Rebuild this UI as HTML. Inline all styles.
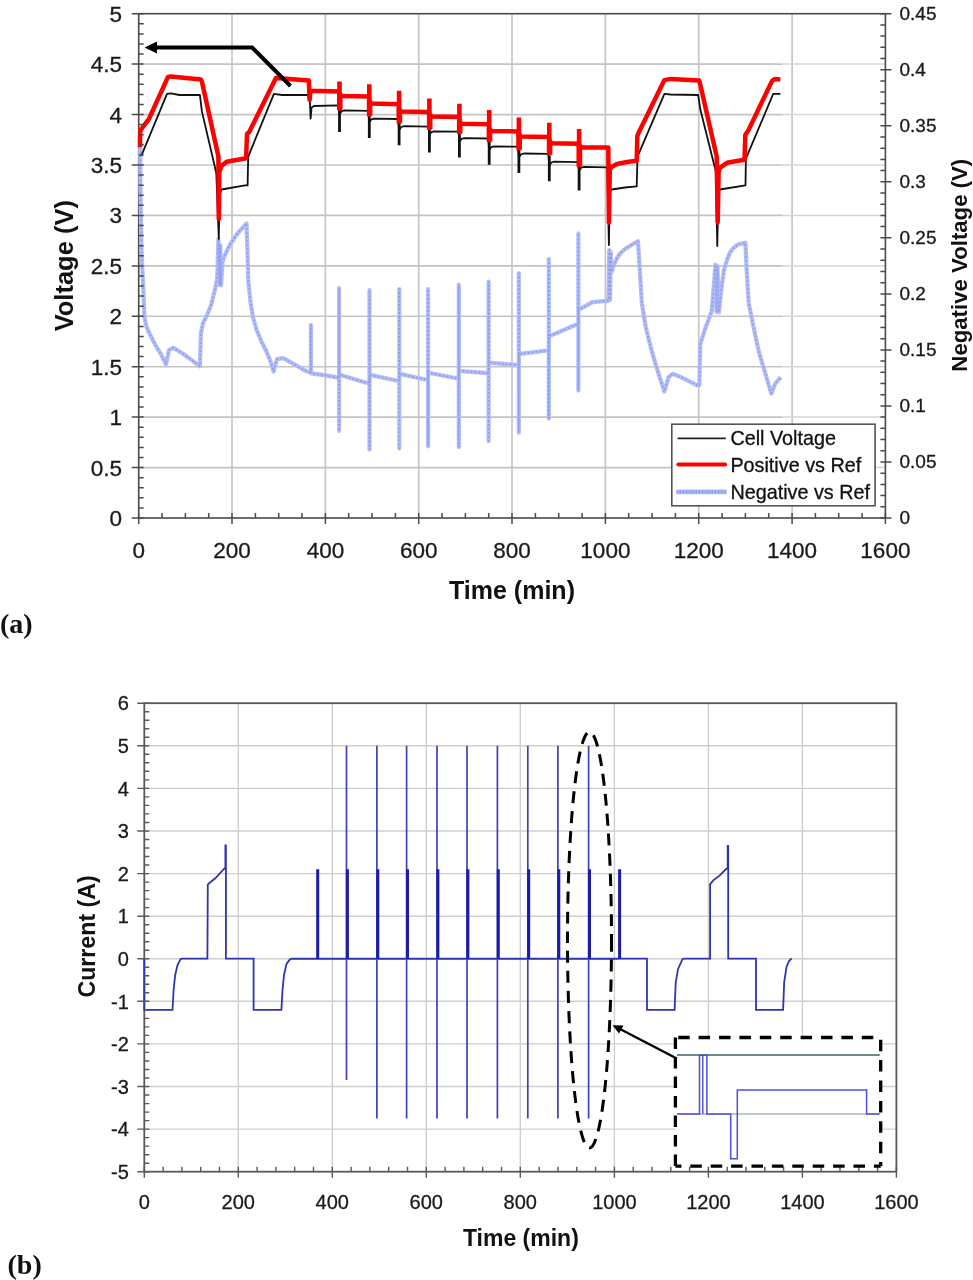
<!DOCTYPE html>
<html><head><meta charset="utf-8"><title>Figure</title>
<style>html,body{margin:0;padding:0;background:#fff;}body{width:973px;height:1280px;overflow:hidden;}svg{display:block;}</style>
</head><body>
<svg width="973" height="1280" viewBox="0 0 973 1280">
<rect width="973" height="1280" fill="#fff"/>
<path d="M232 13.7V518M325.4 13.7V518M418.7 13.7V518M512 13.7V518M605.4 13.7V518M698.7 13.7V518M792.1 13.7V518M138.7 467.6H782.5M138.7 417.1H782.5M138.7 366.7H782.5M138.7 316.3H782.5M138.7 265.9H782.5M138.7 215.4H782.5M138.7 165H782.5M138.7 114.6H782.5M138.7 64.1H782.5" stroke="#c4c4c4" stroke-width="1.6" fill="none"/>
<path d="M782.5 467.6H885.4M782.5 417.1H885.4M782.5 366.7H885.4M782.5 316.3H885.4M782.5 265.9H885.4M782.5 215.4H885.4M782.5 165H885.4M782.5 114.6H885.4M782.5 64.1H885.4" stroke="#d6d6d6" stroke-width="1.5" fill="none"/>
<rect x="138.7" y="13.7" width="746.7" height="504.3" fill="none" stroke="#4a4a4a" stroke-width="1.6"/>
<polyline points="140.2,147.6 140.4,180 140.8,210 141.5,250 142.5,272 143.4,290 144.4,317 146,325 148.5,331.4 154.7,343.7 160.8,354 166,364.3 169,350 173.2,347.8 183.4,354 191.7,360.1 199.9,366.3 200.9,333.4 203,323.2 207.1,315 211.2,304.7 214.3,292.3 217.2,279 218.4,239 219.5,285 220.3,245 221,285.3 222.5,262 224,257.2 229.6,245.2 236.6,234.7 246.5,223.4 247.6,255 248.2,280 250.3,300.6 252.9,317 256.4,329.3 261.5,341.7 266.7,352 270.8,362.2 273.5,371.5 277,359.1 283.1,358.1 294.4,364.3 304.7,370.4 310.9,372.5 310.9,325 310.9,373.3 326.3,375.4 336.6,377.4 339.1,377.4 339.1,288 339.1,430.9 339.1,375.4 342.1,375.4 365.4,382.6 369.5,382.6 369.5,290.1 369.5,449.4 369.5,375.4 372.5,375.4 396.2,380.5 399.3,380.5 399.3,289 399.3,448.4 399.3,374.4 402.3,374.4 425,379.5 428.1,379.5 428.1,289 428.1,446.3 428.1,373.3 431.1,373.3 456.7,378.3 458.8,378.3 458.8,284.7 458.8,447.1 458.8,371.1 461.8,371.1 487.6,373.1 488.6,373.1 488.6,281.7 488.6,441 488.6,362.9 491.6,362.9 516.3,364.9 518.8,364.9 518.8,273.4 518.8,432.7 518.8,353.6 521.8,353.6 547.2,350.5 548.8,350.5 548.8,259 548.8,418.4 548.8,335.1 551.8,335.1 575.9,324.8 578.4,324.8 578.4,233.4 578.4,390.6 578.4,308.4 581.4,308.4 592.4,302.2 608.5,300.6 609.3,250 610,300 610.8,252 611.5,272 613.5,266 616.5,259 620,253.5 625,249 631,245.3 638,241.3 639.8,270.2 641.8,303.1 645.9,327.8 652.1,352.4 658.3,373 664.4,391.5 668.6,377.1 672.7,373.8 680.9,377.1 697.3,385.3 699.4,385.3 700.2,344.2 705.5,327.8 711.7,311.3 713.8,286.7 715.4,264.5 716.5,312 717.5,266 718.9,312.3 721.7,286.3 724,270 727,260 730.2,252 734,247.5 738.4,244.3 745.4,242.7 746.7,270.2 748.7,303.1 752.8,323.7 759,352.4 765.2,373 771.3,393.5 775.4,383.3 780.8,377.1" fill="none" stroke="#b2bdf7" stroke-width="4.2" stroke-linejoin="round"/>
<polyline points="140.2,147.6 140.4,180 140.8,210 141.5,250 142.5,272 143.4,290 144.4,317 146,325 148.5,331.4 154.7,343.7 160.8,354 166,364.3 169,350 173.2,347.8 183.4,354 191.7,360.1 199.9,366.3 200.9,333.4 203,323.2 207.1,315 211.2,304.7 214.3,292.3 217.2,279 218.4,239 219.5,285 220.3,245 221,285.3 222.5,262 224,257.2 229.6,245.2 236.6,234.7 246.5,223.4 247.6,255 248.2,280 250.3,300.6 252.9,317 256.4,329.3 261.5,341.7 266.7,352 270.8,362.2 273.5,371.5 277,359.1 283.1,358.1 294.4,364.3 304.7,370.4 310.9,372.5 310.9,325 310.9,373.3 326.3,375.4 336.6,377.4 339.1,377.4 339.1,288 339.1,430.9 339.1,375.4 342.1,375.4 365.4,382.6 369.5,382.6 369.5,290.1 369.5,449.4 369.5,375.4 372.5,375.4 396.2,380.5 399.3,380.5 399.3,289 399.3,448.4 399.3,374.4 402.3,374.4 425,379.5 428.1,379.5 428.1,289 428.1,446.3 428.1,373.3 431.1,373.3 456.7,378.3 458.8,378.3 458.8,284.7 458.8,447.1 458.8,371.1 461.8,371.1 487.6,373.1 488.6,373.1 488.6,281.7 488.6,441 488.6,362.9 491.6,362.9 516.3,364.9 518.8,364.9 518.8,273.4 518.8,432.7 518.8,353.6 521.8,353.6 547.2,350.5 548.8,350.5 548.8,259 548.8,418.4 548.8,335.1 551.8,335.1 575.9,324.8 578.4,324.8 578.4,233.4 578.4,390.6 578.4,308.4 581.4,308.4 592.4,302.2 608.5,300.6 609.3,250 610,300 610.8,252 611.5,272 613.5,266 616.5,259 620,253.5 625,249 631,245.3 638,241.3 639.8,270.2 641.8,303.1 645.9,327.8 652.1,352.4 658.3,373 664.4,391.5 668.6,377.1 672.7,373.8 680.9,377.1 697.3,385.3 699.4,385.3 700.2,344.2 705.5,327.8 711.7,311.3 713.8,286.7 715.4,264.5 716.5,312 717.5,266 718.9,312.3 721.7,286.3 724,270 727,260 730.2,252 734,247.5 738.4,244.3 745.4,242.7 746.7,270.2 748.7,303.1 752.8,323.7 759,352.4 765.2,373 771.3,393.5 775.4,383.3 780.8,377.1" fill="none" stroke="#8a9bec" stroke-width="1.6" stroke-dasharray="1.6 2.4" stroke-linejoin="round"/>
<polyline points="141.3,155.8 167,93.9 171.1,93.3 179.3,95 199.9,95 201.9,111.4 216.3,173 218.8,238.8 219.5,195 221.5,189.5 245.1,185.4 247.6,185.4 248.2,156.6 273.9,93.9 282.1,95 307.8,95 309.9,101 310.6,118.6 311.6,107.5 314,106 338.5,105.4 339.5,114.4 340.1,113.4 341.5,111.2 344.5,110.4 368.3,110.8 369.3,122.6 369.9,121.6 371.3,119.4 374.3,118.6 398.1,119 399.1,130.2 399.7,129.2 401.1,127 404.1,126.2 428.4,126.6 429.4,135.3 430,134.3 431.4,132.1 434.4,131.3 458.4,131.7 459.4,142.1 460,141.1 461.4,138.9 464.4,138.1 488.2,138.5 489.2,150.3 489.8,149.3 491.2,147.1 494.2,146.3 517.9,146.7 518.9,157.5 519.5,156.5 520.9,154.3 523.9,153.5 548.3,153.9 549.3,165.7 549.9,164.7 551.3,162.5 554.3,161.7 578.1,162.1 579.1,170.9 579.7,169.9 581.1,167.7 584.1,166.9 607.3,167.3 608.9,245 609.8,192 611.5,189.5 625,187.5 636.7,186.4 637.5,156.6 664.4,93.9 670.6,94.5 698.2,95 700.3,109.3 715.7,171 717.3,246 718.3,192 719.8,189.5 745.5,185.4 745.9,158.7 773.2,93.9 780.4,93.9" fill="none" stroke="#111" stroke-width="1.8" stroke-linejoin="round"/>
<path d="M339.5 104.4V132M369.3 112.6V138.1M399.1 120.2V145.3M429.4 125.3V152.5M459.4 132.1V157.6M489.2 140.3V164.8M518.9 147.5V173M549.3 155.7V181.3M579.1 160.9V190.5" stroke="#111" stroke-width="2.8"/>
<polyline points="140,147 140.2,130.6 143.9,125.7 148.8,119.2 168,76.9 171.1,76.4 200.9,79.5 201.9,81.6 218.4,156.6 218.8,219.3 219.3,172 221.5,165.9 226.6,161.7 246.1,158.3 247,134 249.2,132 275.9,78.1 308.8,80.6 309.6,100 310.5,90.8 339.2,91.4 339.5,96 341,96 369,96.6 369.3,103.6 370.8,103.6 398.8,104.2 399.1,111.4 400.6,111.4 429.1,112 429.4,116.5 430.9,116.5 459.1,117.1 459.4,123.7 460.9,123.7 488.9,124.3 489.2,130.9 490.7,130.9 518.6,131.5 518.9,136.5 520.4,136.5 549,137.1 549.3,143.2 550.8,143.2 578.8,143.8 579.1,147.4 580.6,147.4 608.3,147.6 608.9,222.4 609.8,170 611.5,166.9 617,164 627,162 636.7,160.7 637.3,136 639.5,131 664.4,80.1 670.6,78.9 699.2,80.6 700.3,84.7 716.7,156.6 717.7,222.4 718.6,172 719.8,167.9 727,162.8 744.5,159.7 745.3,135 748.6,129.9 772.2,80.6 775,79 780.4,79.5" fill="none" stroke="#f00" stroke-width="4.5" stroke-linejoin="round"/>
<path d="M339.5 81.6V110.4M369.3 84.3V116.5M399.1 90.8V123.7M429.4 98.6V129.9M459.4 103.8V134M489.2 110V142.2M518.9 117.6V150.4M549.3 122.7V155.6M579.1 128.9V166.9" stroke="#f00" stroke-width="4.6"/>
<path d="M339.8 93V109.4M369.6 100.6V115.5M399.4 108.4V122.7M429.7 113.5V128.9M459.7 120.7V133M489.5 127.9V141.2M519.2 133.5V149.4M549.6 140.2V154.6M579.4 144.4V165.9" stroke="#f00" stroke-width="5.6"/>
<path d="M153 47.4H252L290.5 86" fill="none" stroke="#000" stroke-width="4"/>
<path d="M144.6 47.4L157 41.4L157 53.4Z" fill="#000"/>
<path d="M131.7 518H143.7M138.7 507.9H143.7M138.7 497.8H143.7M138.7 487.7H143.7M138.7 477.7H143.7M131.7 467.6H143.7M138.7 457.5H143.7M138.7 447.4H143.7M138.7 437.3H143.7M138.7 427.2H143.7M131.7 417.1H143.7M138.7 407.1H143.7M138.7 397H143.7M138.7 386.9H143.7M138.7 376.8H143.7M131.7 366.7H143.7M138.7 356.6H143.7M138.7 346.5H143.7M138.7 336.5H143.7M138.7 326.4H143.7M131.7 316.3H143.7M138.7 306.2H143.7M138.7 296.1H143.7M138.7 286H143.7M138.7 275.9H143.7M131.7 265.9H143.7M138.7 255.8H143.7M138.7 245.7H143.7M138.7 235.6H143.7M138.7 225.5H143.7M131.7 215.4H143.7M138.7 205.3H143.7M138.7 195.2H143.7M138.7 185.2H143.7M138.7 175.1H143.7M131.7 165H143.7M138.7 154.9H143.7M138.7 144.8H143.7M138.7 134.7H143.7M138.7 124.6H143.7M131.7 114.6H143.7M138.7 104.5H143.7M138.7 94.4H143.7M138.7 84.3H143.7M138.7 74.2H143.7M131.7 64.1H143.7M138.7 54H143.7M138.7 44H143.7M138.7 33.9H143.7M138.7 23.8H143.7M131.7 13.7H143.7M880.4 518H891.4M880.4 506.8H885.4M880.4 495.6H885.4M880.4 484.4H885.4M880.4 473.2H885.4M880.4 462H891.4M880.4 450.8H885.4M880.4 439.6H885.4M880.4 428.3H885.4M880.4 417.1H885.4M880.4 405.9H891.4M880.4 394.7H885.4M880.4 383.5H885.4M880.4 372.3H885.4M880.4 361.1H885.4M880.4 349.9H891.4M880.4 338.7H885.4M880.4 327.5H885.4M880.4 316.3H885.4M880.4 305.1H885.4M880.4 293.9H891.4M880.4 282.7H885.4M880.4 271.5H885.4M880.4 260.2H885.4M880.4 249H885.4M880.4 237.8H891.4M880.4 226.6H885.4M880.4 215.4H885.4M880.4 204.2H885.4M880.4 193H885.4M880.4 181.8H891.4M880.4 170.6H885.4M880.4 159.4H885.4M880.4 148.2H885.4M880.4 137H885.4M880.4 125.8H891.4M880.4 114.6H885.4M880.4 103.4H885.4M880.4 92.1H885.4M880.4 80.9H885.4M880.4 69.7H891.4M880.4 58.5H885.4M880.4 47.3H885.4M880.4 36.1H885.4M880.4 24.9H885.4M880.4 13.7H891.4M138.7 513V524M162 513V518M185.4 513V518M208.7 513V518M232 513V524M255.4 513V518M278.7 513V518M302 513V518M325.4 513V524M348.7 513V518M372 513V518M395.4 513V518M418.7 513V524M442 513V518M465.4 513V518M488.7 513V518M512 513V524M535.4 513V518M558.7 513V518M582.1 513V518M605.4 513V524M628.7 513V518M652.1 513V518M675.4 513V518M698.7 513V524M722.1 513V518M745.4 513V518M768.7 513V518M792.1 513V524M815.4 513V518M838.7 513V518M862.1 513V518M885.4 513V524" stroke="#4a4a4a" stroke-width="1.5" fill="none"/>
<rect x="671.8" y="424.2" width="203.3" height="81.6" fill="#fff" stroke="#555" stroke-width="1.6"/>
<path d="M677.5 438.3H725.8" stroke="#222" stroke-width="1.8"/>
<path d="M678.5 464.5H725" stroke="#f00" stroke-width="4.2" stroke-linecap="round"/>
<path d="M676.5 491.9H726.5" stroke="#a7b7f5" stroke-width="4.6"/>
<path d="M676.5 491.9H726.5" stroke="#8299ee" stroke-width="2.4" stroke-dasharray="1.3 1.9"/>
<g font-family="Liberation Sans, Arial, Helvetica, sans-serif" font-size="19.8" fill="#111" stroke="#111" stroke-width="0.3">
<text x="730.4" y="445">Cell Voltage</text>
<text x="730.4" y="471.5">Positive vs Ref</text>
<text x="730.4" y="498.5">Negative vs Ref</text>
</g>
<g font-family="Liberation Sans, Arial, Helvetica, sans-serif" font-size="22.5" fill="#1a1a1a" stroke="#1a1a1a" stroke-width="0.3" text-anchor="end">
<text x="122" y="526">0</text>
<text x="122" y="475.6">0.5</text>
<text x="122" y="425.1">1</text>
<text x="122" y="374.7">1.5</text>
<text x="122" y="324.3">2</text>
<text x="122" y="273.9">2.5</text>
<text x="122" y="223.4">3</text>
<text x="122" y="173">3.5</text>
<text x="122" y="122.6">4</text>
<text x="122" y="72.1">4.5</text>
<text x="122" y="21.7">5</text>
</g>
<g font-family="Liberation Sans, Arial, Helvetica, sans-serif" font-size="19" fill="#1a1a1a" stroke="#1a1a1a" stroke-width="0.3">
<text x="899.5" y="524.4">0</text>
<text x="899.5" y="468.4">0.05</text>
<text x="899.5" y="412.3">0.1</text>
<text x="899.5" y="356.3">0.15</text>
<text x="899.5" y="300.3">0.2</text>
<text x="899.5" y="244.2">0.25</text>
<text x="899.5" y="188.2">0.3</text>
<text x="899.5" y="132.2">0.35</text>
<text x="899.5" y="76.1">0.4</text>
<text x="899.5" y="20.1">0.45</text>
</g>
<g font-family="Liberation Sans, Arial, Helvetica, sans-serif" font-size="22.5" fill="#1a1a1a" stroke="#1a1a1a" stroke-width="0.3" text-anchor="middle">
<text x="138.7" y="557.9">0</text>
<text x="232" y="557.9">200</text>
<text x="325.4" y="557.9">400</text>
<text x="418.7" y="557.9">600</text>
<text x="512" y="557.9">800</text>
<text x="605.4" y="557.9">1000</text>
<text x="698.7" y="557.9">1200</text>
<text x="792.1" y="557.9">1400</text>
<text x="885.4" y="557.9">1600</text>
</g>
<text font-family="Liberation Sans, Arial, Helvetica, sans-serif" font-size="25" font-weight="bold" fill="#111" text-anchor="middle" x="512" y="598.6">Time (min)</text>
<text font-family="Liberation Sans, Arial, Helvetica, sans-serif" font-size="25.5" font-weight="bold" fill="#111" text-anchor="middle" transform="translate(72.6 265.7) rotate(-90)">Voltage (V)</text>
<text font-family="Liberation Sans, Arial, Helvetica, sans-serif" font-size="22.2" font-weight="bold" fill="#111" text-anchor="middle" transform="translate(967.2 265.2) rotate(-90)">Negative Voltage (V)</text>
<text font-family="Liberation Serif, Times New Roman, serif" font-size="28" font-weight="bold" fill="#111" x="0" y="632.8">(a)</text>
<path d="M238.3 703.2V1171.7M332.3 703.2V1171.7M426.3 703.2V1171.7M520.3 703.2V1171.7M614.4 703.2V1171.7M708.4 703.2V1171.7M802.4 703.2V1171.7M144.3 1129.1H896.4M144.3 1086.5H896.4M144.3 1043.9H896.4M144.3 1001.3H896.4M144.3 958.7H896.4M144.3 916.2H896.4M144.3 873.6H896.4M144.3 831H896.4M144.3 788.4H896.4M144.3 745.8H896.4" stroke="#cfcfcf" stroke-width="1.4" fill="none"/>
<rect x="144.3" y="703.2" width="752.1" height="468.5" fill="none" stroke="#595959" stroke-width="1.8"/>
<polyline points="144.3,958.7 144.3,1009.9 172.5,1009.9 173.6,990 175.2,975 177.5,965 180.3,959.6 181.5,958.7 207.4,958.7 207.8,884.6 210,882.5 215,878.5 224.5,868.5 225.4,868.5 225.4,845.5 225.9,845.5 225.9,958.7 253.6,958.7 253.6,1009.9 281.4,1009.9 282.5,990 284,975 286.5,964 289.7,959.6 291,958.7" fill="none" stroke="#3333b0" stroke-width="1.8" stroke-linejoin="miter"/>
<path d="M291 958.7H618.7" stroke="#3333b0" stroke-width="1.9"/>
<polyline points="618.7,958.7 647,958.7 647,1009.9 674.6,1009.9 675.7,982.8 678,969.2 682.5,959 684,958.7 710.1,958.7 710.1,884.4 713,880.6 719.8,875.4 726.6,868.6 727.7,868 727.7,846 728.2,846 728.2,958.7 756,958.7 756,1009.9 783.1,1009.9 784.2,982 786.5,967 789,961 791.7,958.4" fill="none" stroke="#3333b0" stroke-width="1.8"/>
<path d="M346.5 745.8V1080.1M376.9 745.8V1118.5M406.6 745.8V1118.5M437 745.8V1118.5M467 745.8V1118.5M497.4 745.8V1118.5M527.8 745.8V1118.5M557.9 745.8V1118.5M588.6 745.8V1118.5" stroke="#4040b8" stroke-width="1.7"/>
<path d="M317.7 958.7V869.3M347.4 958.7V869.3M377.8 958.7V869.3M407.5 958.7V869.3M437.9 958.7V869.3M467.9 958.7V869.3M498.3 958.7V869.3M528.7 958.7V869.3M558.8 958.7V869.3M589.5 958.7V869.3M619.6 958.7V869.3" stroke="#1c1ca8" stroke-width="3"/>
<path d="M137.3 1171.7H149.3M144.3 1163.2H149.3M144.3 1154.7H149.3M144.3 1146.1H149.3M144.3 1137.6H149.3M137.3 1129.1H149.3M144.3 1120.6H149.3M144.3 1112.1H149.3M144.3 1103.6H149.3M144.3 1095H149.3M137.3 1086.5H149.3M144.3 1078H149.3M144.3 1069.5H149.3M144.3 1061H149.3M144.3 1052.4H149.3M137.3 1043.9H149.3M144.3 1035.4H149.3M144.3 1026.9H149.3M144.3 1018.4H149.3M144.3 1009.9H149.3M137.3 1001.3H149.3M144.3 992.8H149.3M144.3 984.3H149.3M144.3 975.8H149.3M144.3 967.3H149.3M137.3 958.7H149.3M144.3 950.2H149.3M144.3 941.7H149.3M144.3 933.2H149.3M144.3 924.7H149.3M137.3 916.2H149.3M144.3 907.6H149.3M144.3 899.1H149.3M144.3 890.6H149.3M144.3 882.1H149.3M137.3 873.6H149.3M144.3 865H149.3M144.3 856.5H149.3M144.3 848H149.3M144.3 839.5H149.3M137.3 831H149.3M144.3 822.5H149.3M144.3 813.9H149.3M144.3 805.4H149.3M144.3 796.9H149.3M137.3 788.4H149.3M144.3 779.9H149.3M144.3 771.3H149.3M144.3 762.8H149.3M144.3 754.3H149.3M137.3 745.8H149.3M144.3 737.3H149.3M144.3 728.8H149.3M144.3 720.2H149.3M144.3 711.7H149.3M137.3 703.2H149.3M144.3 1166.7V1177.7M163.1 1166.7V1171.7M181.9 1166.7V1171.7M200.7 1166.7V1171.7M219.5 1166.7V1171.7M238.3 1166.7V1177.7M257.1 1166.7V1171.7M275.9 1166.7V1171.7M294.7 1166.7V1171.7M313.5 1166.7V1171.7M332.3 1166.7V1177.7M351.1 1166.7V1171.7M369.9 1166.7V1171.7M388.7 1166.7V1171.7M407.5 1166.7V1171.7M426.3 1166.7V1177.7M445.1 1166.7V1171.7M463.9 1166.7V1171.7M482.7 1166.7V1171.7M501.5 1166.7V1171.7M520.3 1166.7V1177.7M539.2 1166.7V1171.7M558 1166.7V1171.7M576.8 1166.7V1171.7M595.6 1166.7V1171.7M614.4 1166.7V1177.7M633.2 1166.7V1171.7M652 1166.7V1171.7M670.8 1166.7V1171.7M689.6 1166.7V1171.7M708.4 1166.7V1177.7M727.2 1166.7V1171.7M746 1166.7V1171.7M764.8 1166.7V1171.7M783.6 1166.7V1171.7M802.4 1166.7V1177.7M821.2 1166.7V1171.7M840 1166.7V1171.7M858.8 1166.7V1171.7M877.6 1166.7V1171.7M896.4 1166.7V1177.7" stroke="#595959" stroke-width="1.4" fill="none"/>
<ellipse cx="589.5" cy="940" rx="22" ry="208" fill="none" stroke="#000" stroke-width="3" stroke-dasharray="12 8"/>
<rect x="675.4" y="1037.5" width="205.3" height="128.7" fill="#fff"/>
<path d="M677 1055.1H879.8" stroke="#6f8a84" stroke-width="2"/>
<path d="M677 1114H879.8" stroke="#a9b8b3" stroke-width="1.6"/>
<polyline points="677.3,1114 699.5,1114 699.5,1055.3 706.9,1055.3 706.9,1114 730.7,1114 730.7,1158.8 737.3,1158.8 737.3,1090 866.6,1090 866.6,1114 879.5,1114" fill="none" stroke="#4d4de0" stroke-width="1.5"/>
<path d="M702.8 1055.3V1114" stroke="#4d4de0" stroke-width="1.4"/>
<g stroke="#000" stroke-width="3.3" fill="none">
<path d="M675.4 1037.5H880.7" stroke-dasharray="11.5 8.9" stroke-dashoffset="17.6"/>
<path d="M880.7 1037.5V1166.2" stroke-dasharray="11.5 8.9" stroke-dashoffset="18.2"/>
<path d="M675.4 1166.2H880.7" stroke-dasharray="11.5 8.9" stroke-dashoffset="5.5"/>
<path d="M675.4 1037.5V1166.2" stroke-dasharray="11.5 8" stroke-dashoffset="0"/>
</g>
<path d="M675.3 1057.7L620 1029" stroke="#000" stroke-width="2.4"/>
<path d="M612.5 1025.3L623.5 1025.5L619 1033.5Z" fill="#000"/>
<g font-family="Liberation Sans, Arial, Helvetica, sans-serif" font-size="20" fill="#1a1a1a" stroke="#1a1a1a" stroke-width="0.3" text-anchor="end">
<text x="128.9" y="1178.9">-5</text>
<text x="128.9" y="1136.3">-4</text>
<text x="128.9" y="1093.7">-3</text>
<text x="128.9" y="1051.1">-2</text>
<text x="128.9" y="1008.5">-1</text>
<text x="128.9" y="965.9">0</text>
<text x="128.9" y="923.4">1</text>
<text x="128.9" y="880.8">2</text>
<text x="128.9" y="838.2">3</text>
<text x="128.9" y="795.6">4</text>
<text x="128.9" y="753">5</text>
<text x="128.9" y="710.4">6</text>
</g>
<g font-family="Liberation Sans, Arial, Helvetica, sans-serif" font-size="20" fill="#1a1a1a" stroke="#1a1a1a" stroke-width="0.3" text-anchor="middle">
<text x="144.3" y="1208.6">0</text>
<text x="238.3" y="1208.6">200</text>
<text x="332.3" y="1208.6">400</text>
<text x="426.3" y="1208.6">600</text>
<text x="520.3" y="1208.6">800</text>
<text x="614.4" y="1208.6">1000</text>
<text x="708.4" y="1208.6">1200</text>
<text x="802.4" y="1208.6">1400</text>
<text x="896.4" y="1208.6">1600</text>
</g>
<text font-family="Liberation Sans, Arial, Helvetica, sans-serif" font-size="23" font-weight="bold" fill="#111" text-anchor="middle" x="520.9" y="1246.2">Time (min)</text>
<text font-family="Liberation Sans, Arial, Helvetica, sans-serif" font-size="23.2" font-weight="bold" fill="#111" text-anchor="middle" transform="translate(95.2 936.4) rotate(-90)">Current (A)</text>
<text font-family="Liberation Serif, Times New Roman, serif" font-size="28" font-weight="bold" fill="#111" x="7.5" y="1274">(b)</text>
</svg>
</body></html>
